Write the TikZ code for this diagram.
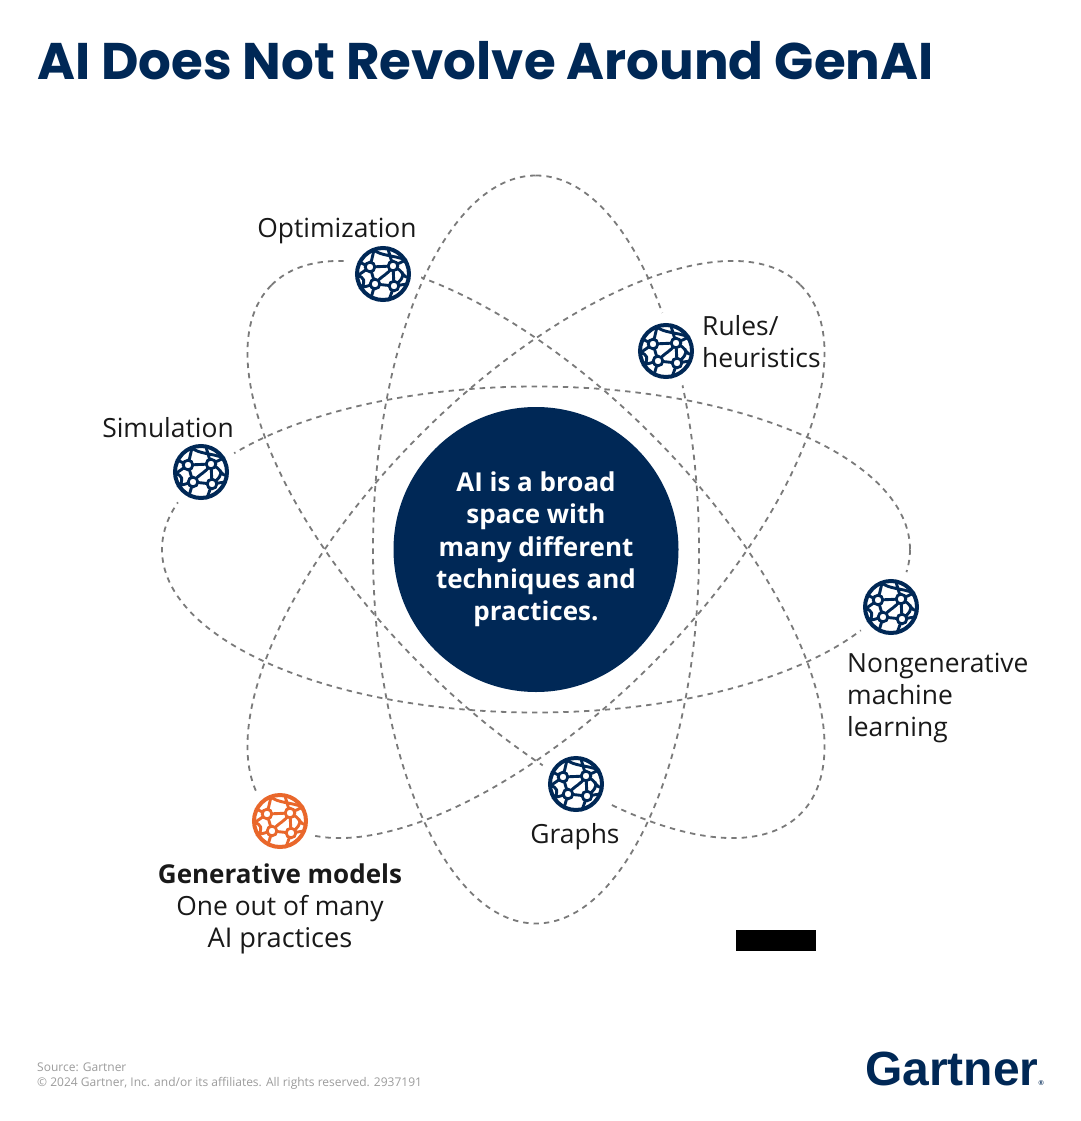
\documentclass[tikz,border=0pt]{standalone}
\usepackage{fontspec}
\setmainfont{Open Sans}
\newfontfamily\titlefont{Poppins}[BoldFont={* Bold}]
\newfontfamily\logofont{Liberation Sans}
\definecolor{navy}{HTML}{002856}
\definecolor{rust}{HTML}{E9672B}
\definecolor{orbitgray}{HTML}{7A7A7A}
\definecolor{footgray}{HTML}{9C9C9C}
\tikzset{
  pics/planet/.style={code={
    \fill[white] (0,0) circle (27);
    \draw[#1,line width=2.9,line cap=round,line join=round]
      (-13,-7) -- (10,-8) -- (11,12) -- (-8,10) -- cycle
      (10,-8) .. controls (4,2) and (0,0) .. (-8,10)
      (-13,-7) -- (-24,-12) (-13,-7) -- (-9,-24) (-13,-7) -- (-26,2)
      (10,-8) -- (5,-25) (10,-8) -- (23,-14) (10,-8) .. controls (21,-3) and (19,3) .. (26,4)
      (-8,10) -- (-23,14) (-8,10) -- (-12,24) (11,12) -- (6,26) (11,12) -- (24,10)
      (-9,-24) .. controls (-2,-18) and (10,-19) .. (23,-14)
      (-26,2) .. controls (-19,2) and (-16,9) .. (-23,14)
      (19,-2) .. controls (22,2) and (17,8) .. (11,12);
    \foreach \nx/\ny in {-13/-7,10/-8,-8/10,11/12}
      \draw[#1,fill=white,line width=2.8] (\nx,\ny) circle (4.8);
    \draw[#1,line width=4] (0,0) circle (26);
  }},
  orbit/.style={orbitgray,line width=1.8,dash pattern=on 5.4pt off 5pt},
  halo/.style={circle,fill=white,inner sep=0pt,minimum size=76},
  tag/.style={text=black!90,font=\fontsize{26.4}{32}\selectfont,inner sep=0pt},
}
\begin{document}
\begin{tikzpicture}[x=1pt,y=-1pt]
  \useasboundingbox (0,0) rectangle (1080,1121);
  \fill[white] (0,0) rectangle (1080,1121);

  % Title
  \node[anchor=base west,inner sep=0pt,text=navy,font=\titlefont\bfseries\fontsize{51.5}{56}\selectfont] (title) at (37,80) {AI Does Not Revolve Around GenAI};

  % Orbits
  \coordinate (mid) at (536,549.5);
  \foreach \ang in {0,45,90,135}
    \draw[orbit,rotate around={\ang:(mid)}] (mid) ellipse [x radius=374,y radius=163];

  % Core
  \node[circle,fill=navy,minimum size=285,inner sep=0pt,text=white,align=center,font=\bfseries\fontsize{26}{32.3}\selectfont] (core) at (mid) {AI is a broad\\space with\\many different\\techniques and\\practices.};

  % Planets
  \node[halo] (optim) at (383,274) {};
  \node[halo] (rules) at (666,351) {};
  \node[halo] (simul) at (201,472) {};
  \node[halo] (nongen) at (891,607) {};
  \node[halo] (graphs) at (576,784) {};
  \node[halo] (genmod) at (280,821) {};
  \pic at (optim) {planet=navy};
  \pic at (rules) {planet=navy};
  \pic at (simul) {planet=navy};
  \pic at (nongen) {planet=navy};
  \pic at (graphs) {planet=navy};
  \pic at (genmod) {planet=rust};

  % Labels
  \node[tag] (optimtag) at (337,231) {Optimization};
  \node[tag,align=left,anchor=west] (rulestag) at (702,342) {Rules/\\heuristics};
  \node[tag] (simultag) at (168,428) {Simulation};
  \node[tag,align=left,anchor=west] (nongentag) at (847,698) {Nongenerative\\machine\\learning};
  \node[tag] (graphstag) at (575,837) {Graphs};
  \node[tag,align=center] (genmodtag) at (280,909) {{\fontsize{26}{32}\selectfont\textbf{Generative models}}\\One out of many\\{\fontsize{27.2}{32}\selectfont AI practices}};

  % Redaction
  \node[fill=black,minimum width=80,minimum height=21,inner sep=0pt] (block) at (776,940.5) {};

  % Footer
  \node[anchor=base west,inner sep=0pt,align=left,text=footgray,font=\fontsize{12}{15}\selectfont] (source) at (37,1086) {Source: Gartner\\\textcopyright{} 2024 Gartner, Inc. and/or its affiliates. All rights reserved. 2937191};
  \node[anchor=base east,inner sep=0pt,text=navy,font=\logofont\bfseries\fontsize{48}{50}\selectfont] (logo) at (1044,1085) {Gartner{\fontsize{7}{8}\selectfont\textregistered}};
\end{tikzpicture}
\end{document}
